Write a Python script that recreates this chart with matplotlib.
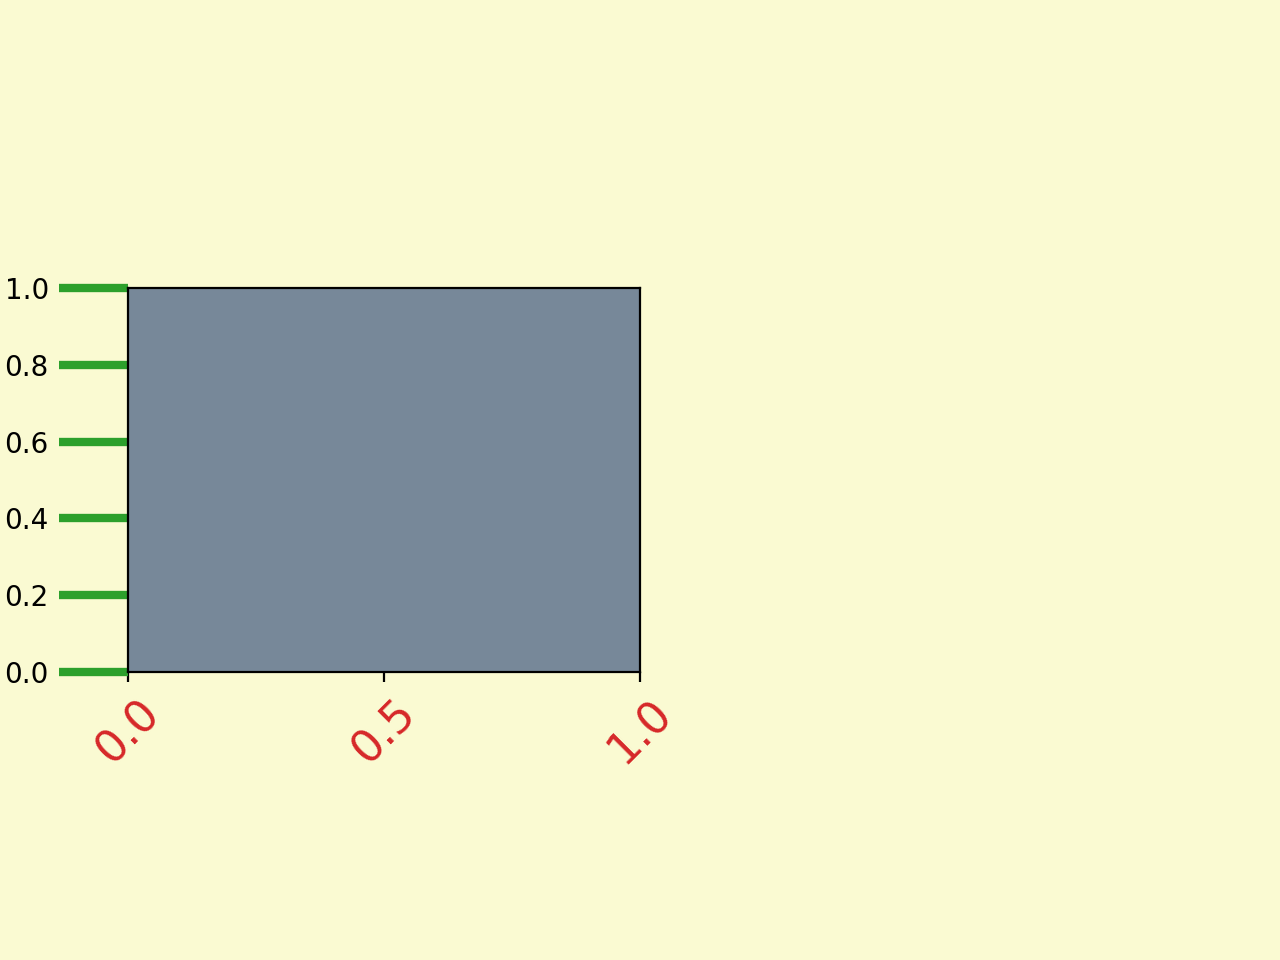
import matplotlib
matplotlib.use("Agg")
import matplotlib.pyplot as plt

# tick positions shown on the axes
x_ticks = [0.0, 0.5, 1.0]
y_ticks = [0.0, 0.2, 0.4, 0.6, 0.8, 1.0]

fig = plt.figure(figsize=(6.4, 4.8), dpi=200)
fig.patch.set_facecolor('lightgoldenrodyellow')

ax1 = fig.add_axes([0.1, 0.3, 0.4, 0.4])
ax1.patch.set_facecolor('lightslategray')

ax1.set_xticks(x_ticks)
ax1.set_yticks(y_ticks)
ax1.set_xlim(x_ticks[0], x_ticks[-1])
ax1.set_ylim(y_ticks[0], y_ticks[-1])

ax1.tick_params(axis='x', labelcolor='tab:red', labelrotation=45, labelsize=16)
ax1.tick_params(axis='y', color='tab:green', size=25, width=3)

fig.savefig('out.png', facecolor=fig.get_facecolor())
